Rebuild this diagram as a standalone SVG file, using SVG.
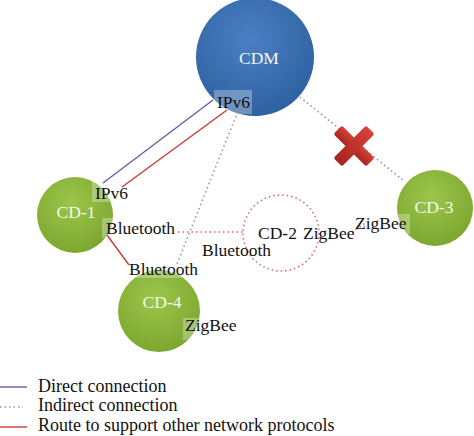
<svg xmlns="http://www.w3.org/2000/svg" width="474" height="436" viewBox="0 0 474 436">
<defs>
<radialGradient id="gBlue" cx="0.45" cy="0.35" r="0.7">
<stop offset="0" stop-color="#4a80c4"/>
<stop offset="1" stop-color="#2c5f9e"/>
</radialGradient>
<radialGradient id="gGreen" cx="0.45" cy="0.35" r="0.7">
<stop offset="0" stop-color="#9cc64a"/>
<stop offset="1" stop-color="#7aa52e"/>
</radialGradient>
<linearGradient id="gRed" x1="0" y1="0" x2="0" y2="1">
<stop offset="0" stop-color="#d8413a"/>
<stop offset="1" stop-color="#a82420"/>
</linearGradient>
<clipPath id="cCDM"><circle cx="255" cy="57" r="59"/></clipPath>
<clipPath id="cCD1"><circle cx="75" cy="215" r="38"/></clipPath>
<clipPath id="cCD3"><circle cx="435" cy="208" r="38"/></clipPath>
<clipPath id="cCD4"><circle cx="159" cy="311" r="41"/></clipPath>
</defs>
<style>
.lbl{font-family:"Liberation Serif",serif;font-size:17.5px;fill:#111}
.nm{font-family:"Liberation Serif",serif;font-size:17.5px;fill:#f4f8ea}
.leg{font-family:"Liberation Serif",serif;font-size:18px;fill:#111}
.box{fill:#ffffff;fill-opacity:0.3}
.dir{stroke:#6a5aa8;stroke-width:1.4;fill:none}
.route{stroke:#c83a3a;stroke-width:1.4;fill:none}
.ind{stroke:#8b99a8;stroke-width:1.6;stroke-dasharray:1.5 3;fill:none}
.indr{stroke:#d46a78;stroke-width:1.6;stroke-dasharray:1.5 3;fill:none}
.indm{stroke:#a88a94;stroke-width:1.6;stroke-dasharray:1.5 3;fill:none}
</style>
<g id="connectors">
<line class="dir" x1="213" y1="100" x2="103" y2="183"/>
<line class="route" x1="227" y1="110" x2="122" y2="187"/>
<line class="route" x1="107" y1="235" x2="129" y2="265"/>
<line class="ind" x1="236" y1="116" x2="177" y2="264"/>
<line class="indm" x1="300" y1="97" x2="404" y2="181"/>
<line class="indr" x1="178" y1="232" x2="243" y2="232"/>
<line class="indr" x1="352" y1="232" x2="367" y2="222"/>
</g>
<g id="CDM">
<circle cx="255" cy="57" r="59" fill="url(#gBlue)"/>
<rect class="box" x="214" y="90" width="38" height="24" clip-path="url(#cCDM)"/>
<text class="nm" x="259" y="64" text-anchor="middle">CDM</text>
<text class="lbl" x="217" y="108">IPv6</text>
</g>
<g id="CD-1">
<circle cx="75" cy="215" r="38" fill="url(#gGreen)"/>
<g clip-path="url(#cCD1)">
<rect class="box" x="92" y="182" width="30" height="20"/>
<rect class="box" x="102" y="218" width="20" height="20"/>
</g>
<text class="nm" x="76" y="218" text-anchor="middle">CD-1</text>
<text class="lbl" x="95" y="199">IPv6</text>
<text class="lbl" x="106" y="234">Bluetooth</text>
</g>
<g id="CD-4">
<circle cx="159" cy="311" r="41" fill="url(#gGreen)"/>
<g clip-path="url(#cCD4)">
<rect class="box" x="128" y="258" width="68" height="20"/>
<rect class="box" x="183" y="318" width="20" height="22"/>
</g>
<text class="nm" x="162" y="308" text-anchor="middle">CD-4</text>
<text class="lbl" x="129" y="275">Bluetooth</text>
<text class="lbl" x="185" y="331">ZigBee</text>
</g>
<g id="CD-3">
<circle cx="435" cy="208" r="38" fill="url(#gGreen)"/>
<rect class="box" x="398" y="214" width="12" height="20" clip-path="url(#cCD3)"/>
<text class="nm" x="434" y="213" text-anchor="middle">CD-3</text>
<text class="lbl" x="355" y="229">ZigBee</text>
</g>
<g id="CD-2">
<circle cx="281" cy="233" r="38" class="indr"/>
<text class="lbl" x="258" y="239">CD-2</text>
<text class="lbl" x="303" y="239">ZigBee</text>
<text class="lbl" x="202" y="256">Bluetooth</text>
</g>
<g id="cross" transform="translate(354,146) rotate(45)">
<rect x="-23" y="-6" width="46" height="12" rx="2" fill="url(#gRed)"/>
<rect x="-6" y="-23" width="12" height="46" rx="2" fill="url(#gRed)"/>
</g>
<g id="legend">
<line class="dir" x1="0" y1="387" x2="27" y2="387"/>
<line class="ind" x1="0" y1="407" x2="23" y2="407"/>
<line class="route" x1="0" y1="427" x2="27" y2="427"/>
<text class="leg" x="38" y="392">Direct connection</text>
<text class="leg" x="38" y="411">Indirect connection</text>
<text class="leg" x="38" y="431">Route to support other network protocols</text>
</g>
</svg>
